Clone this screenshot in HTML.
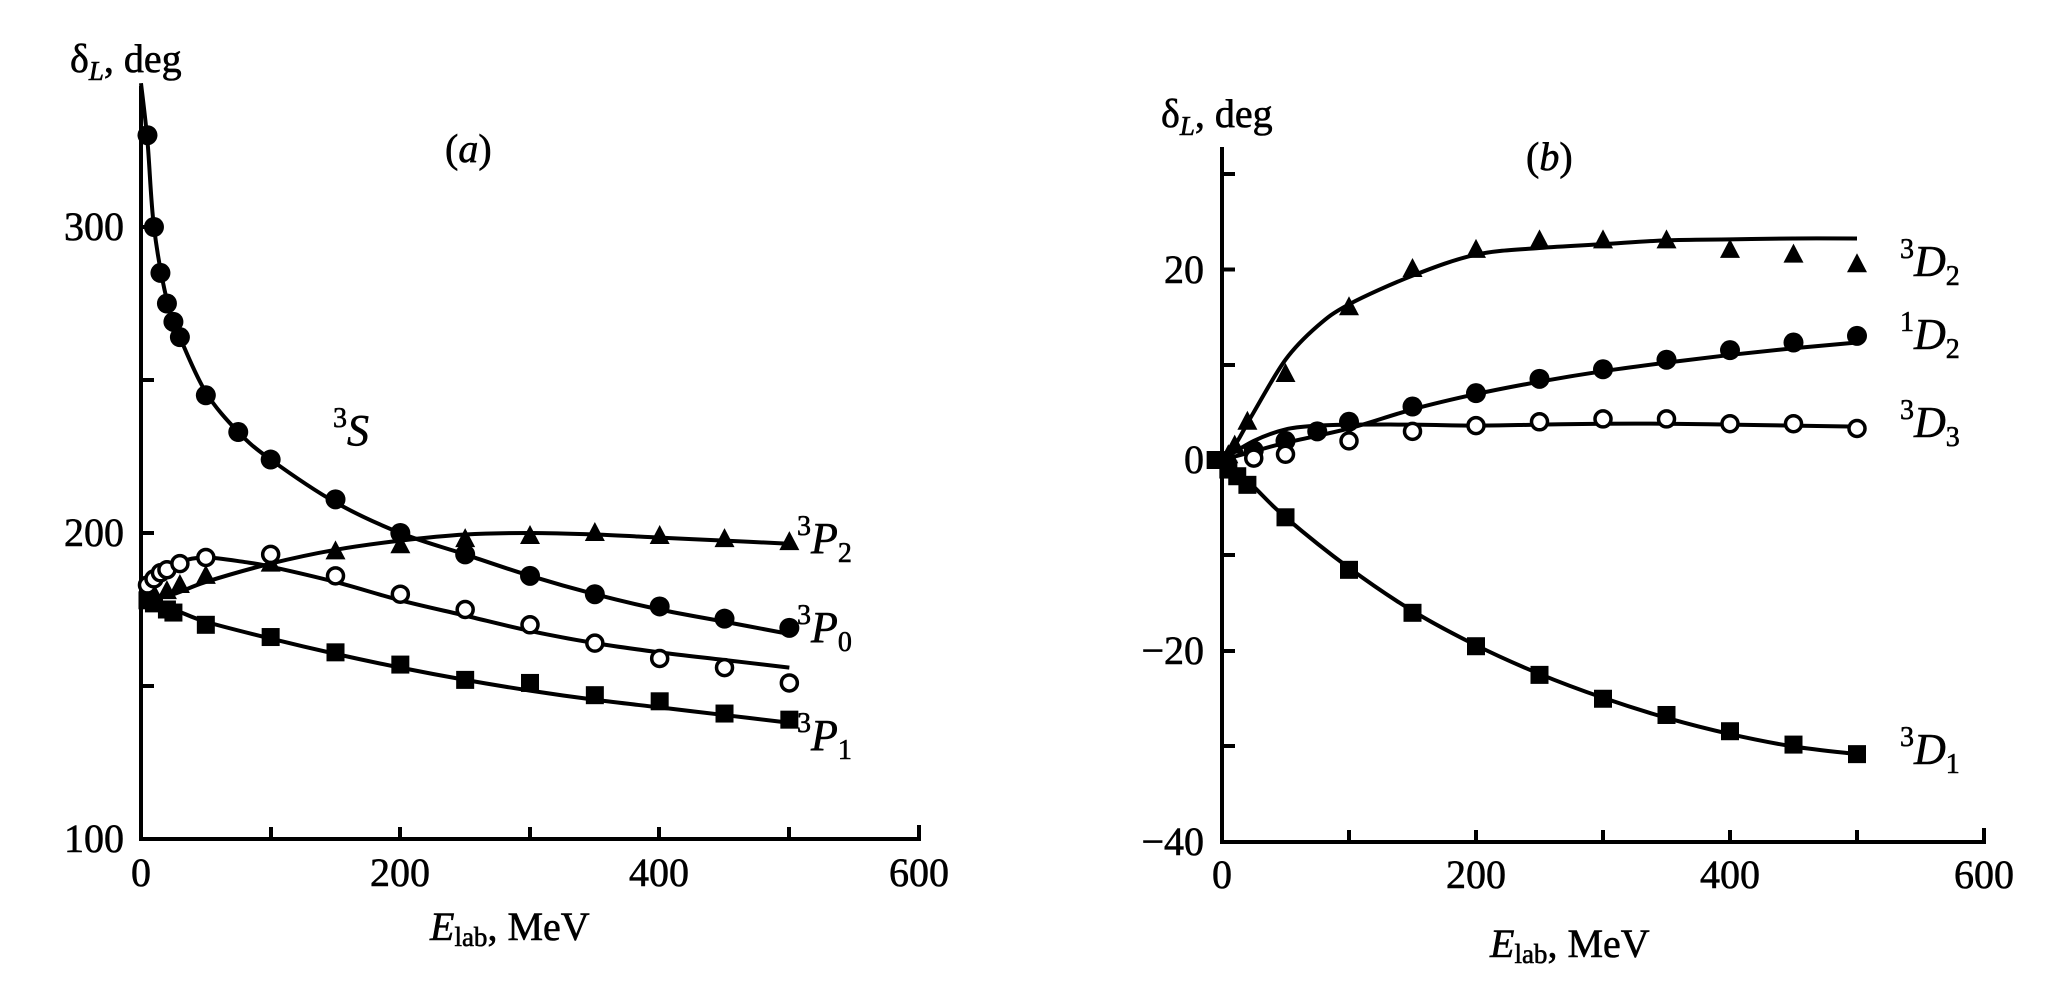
<!DOCTYPE html>
<html><head><meta charset="utf-8">
<style>
html,body{margin:0;padding:0;background:#fff;}
svg{display:block;}
text{font-family:"Liberation Serif",serif;fill:#000;stroke:#000;stroke-width:0.6;}
</style></head>
<body>
<svg id="s" width="2057" height="995" viewBox="0 0 2057 995" xmlns="http://www.w3.org/2000/svg">
<g stroke="#000" stroke-width="4" fill="none">
<path d="M141,86 V839 H919 V825"/>
<path d="M141,686 h13 M141,533 h13 M141,380 h13 M141,227 h13"/>
<path d="M271,839 v-12 M400,839 v-12 M530,839 v-12 M659,839 v-12 M789,839 v-12"/>
<path d="M1222,147 V842 H1984 V828"/>
<path d="M1222,174 h13 M1222,269.5 h13 M1222,365 h13 M1222,460 h13 M1222,555 h13 M1222,651 h13 M1222,746 h13"/>
<path d="M1349,842 v-12 M1476,842 v-12 M1603,842 v-12 M1730,842 v-12 M1857,842 v-12"/>
</g>
<g font-size="40">
<text x="70" y="72">δ<tspan font-style="italic" font-size="27" dy="8">L</tspan><tspan dy="-8">, deg</tspan></text>
<text x="445" y="162">(<tspan font-style="italic">a</tspan>)</text>
<text x="124" y="546" text-anchor="end">200</text>
<text x="124" y="240" text-anchor="end">300</text>
<text x="124" y="852" text-anchor="end">100</text>
<text x="141" y="886" text-anchor="middle">0</text>
<text x="400" y="886" text-anchor="middle">200</text>
<text x="659" y="886" text-anchor="middle">400</text>
<text x="919" y="886" text-anchor="middle">600</text>
<text x="430" y="940"><tspan font-style="italic">E</tspan><tspan font-size="27" dy="6">lab</tspan><tspan dy="-6">, MeV</tspan></text>
<g font-size="44">
<text x="333" y="445"><tspan font-size="28" dy="-18">3</tspan><tspan font-style="italic" dy="18">S</tspan></text>
<text x="797" y="553"><tspan font-size="28" dy="-18">3</tspan><tspan font-style="italic" dy="18">P</tspan><tspan font-size="28" dy="9">2</tspan></text>
<text x="797" y="642"><tspan font-size="28" dy="-18">3</tspan><tspan font-style="italic" dy="18">P</tspan><tspan font-size="28" dy="9">0</tspan></text>
<text x="797" y="750"><tspan font-size="28" dy="-18">3</tspan><tspan font-style="italic" dy="18">P</tspan><tspan font-size="28" dy="9">1</tspan></text>
<text x="1900" y="276"><tspan font-size="28" dy="-18">3</tspan><tspan font-style="italic" dy="18">D</tspan><tspan font-size="28" dy="9">2</tspan></text>
<text x="1900" y="349"><tspan font-size="28" dy="-18">1</tspan><tspan font-style="italic" dy="18">D</tspan><tspan font-size="28" dy="9">2</tspan></text>
<text x="1900" y="437"><tspan font-size="28" dy="-18">3</tspan><tspan font-style="italic" dy="18">D</tspan><tspan font-size="28" dy="9">3</tspan></text>
<text x="1900" y="764"><tspan font-size="28" dy="-18">3</tspan><tspan font-style="italic" dy="18">D</tspan><tspan font-size="28" dy="9">1</tspan></text>
</g>
<text x="1161" y="127">δ<tspan font-style="italic" font-size="27" dy="8">L</tspan><tspan dy="-8">, deg</tspan></text>
<text x="1526" y="170">(<tspan font-style="italic">b</tspan>)</text>
<text x="1204" y="283" text-anchor="end">20</text>
<text x="1204" y="473" text-anchor="end">0</text>
<text x="1204" y="664" text-anchor="end">−20</text>
<text x="1204" y="855" text-anchor="end">−40</text>
<text x="1222" y="888" text-anchor="middle">0</text>
<text x="1476" y="888" text-anchor="middle">200</text>
<text x="1730" y="888" text-anchor="middle">400</text>
<text x="1984" y="888" text-anchor="middle">600</text>
<text x="1490" y="957"><tspan font-style="italic">E</tspan><tspan font-size="27" dy="6">lab</tspan><tspan dy="-6">, MeV</tspan></text>
</g>
<g id="data"></g>
</svg>
<script>
var NS="http://www.w3.org/2000/svg",g=document.getElementById("data");
function ax(E){return 141+E*1.2967;} function ay(v){return 839-(v-100)*3.06;}
function bx(E){return 1222+E*1.27;} function by(v){return 460-v*9.55;}
function el(t,a){var e=document.createElementNS(NS,t);for(var k in a)e.setAttribute(k,a[k]);g.appendChild(e);return e;}
function curve(pts,fx,fy){var p=pts.map(function(q){return [fx(q[0]),fy(q[1])];});
 var d="M"+p[0][0]+","+p[0][1];
 for(var i=0;i<p.length-1;i++){var p0=p[i-1]||p[i],p1=p[i],p2=p[i+1],p3=p[i+2]||p2;
  var c1=[p1[0]+(p2[0]-p0[0])/6,p1[1]+(p2[1]-p0[1])/6],c2=[p2[0]-(p3[0]-p1[0])/6,p2[1]-(p3[1]-p1[1])/6];
  d+=" C"+c1+" "+c2+" "+p2;}
 el("path",{d:d,fill:"none",stroke:"#000","stroke-width":4});}
function mk(type,pts,fx,fy){pts.forEach(function(q){var x=fx(q[0]),y=fy(q[1]);
 if(type=="fc")el("circle",{cx:x,cy:y,r:10,fill:"#000"});
 if(type=="oc")el("circle",{cx:x,cy:y,r:8,fill:"#fff",stroke:"#000","stroke-width":3.5});
 if(type=="sq")el("rect",{x:x-9,y:y-9,width:18,height:18,fill:"#000"});
 if(type=="tr")el("path",{d:"M"+x+","+(y-11)+" L"+(x+10)+","+(y+8)+" L"+(x-10)+","+(y+8)+"Z",fill:"#000"});});}
curve([[0,347],[5,328],[10,300],[20,276],[30,264],[50,246],[75,233],[100,224],[150,210],[200,200],[250,193],[300,186],[350,180],[400,175],[450,171],[500,167]],ax,ay);
mk("fc",[[5,330],[10,300],[15,285],[20,275],[25,269],[30,264],[50,245],[75,233],[100,224],[150,211],[200,200],[250,193],[300,186],[350,180],[400,176],[450,172],[500,169]],ax,ay);
curve([[0,178],[25,180],[50,184],[100,190],[150,194.5],[200,197.5],[250,199.5],[300,200],[350,199.5],[400,198.5],[450,197.5],[500,196.5]],ax,ay);
mk("tr",[[10,180],[20,181],[30,183],[50,186],[100,190],[150,194],[200,196],[250,198],[300,199],[350,200],[400,199],[450,198],[500,197]],ax,ay);
curve([[0,180],[15,186],[30,190.5],[50,192],[80,190.5],[100,189],[150,184],[200,178],[250,173],[300,168],[350,164],[400,161],[450,158.5],[500,156]],ax,ay);
mk("oc",[[5,183],[10,185],[15,187],[20,188],[30,190],[50,192],[100,193],[150,186],[200,180],[250,175],[300,170],[350,164],[400,159],[450,156],[500,151]],ax,ay);
curve([[0,178],[25,175],[50,171],[100,165.5],[150,160.5],[200,156],[250,152],[300,148.5],[350,145.5],[400,143],[450,140.5],[500,138]],ax,ay);
mk("sq",[[5,178],[10,177],[20,175],[25,174],[50,170],[100,166],[150,161],[200,157],[250,152],[300,151],[350,147],[400,145],[450,141],[500,139]],ax,ay);
curve([[0,0],[10,1.5],[25,5],[50,10.5],[75,14],[100,16.3],[150,19.3],[200,21.5],[250,22.2],[300,22.6],[350,23],[400,23.1],[450,23.2],[500,23.2]],bx,by);
mk("tr",[[5,0.5],[10,1.5],[20,4],[50,9],[100,16],[150,20],[200,22],[250,23],[300,23],[350,23],[400,22],[450,21.5],[500,20.5]],bx,by);
curve([[0,0],[25,0.9],[50,1.8],[100,3.3],[150,5.3],[200,6.9],[250,8.2],[300,9.3],[350,10.2],[400,11],[450,11.7],[500,12.3]],bx,by);
mk("fc",[[25,1],[50,2],[75,3],[100,4],[150,5.6],[200,7],[250,8.5],[300,9.5],[350,10.5],[400,11.5],[450,12.3],[500,13]],bx,by);
curve([[0,0],[25,2],[50,3.2],[75,3.6],[100,3.7],[150,3.7],[200,3.6],[250,3.7],[300,3.8],[350,3.8],[400,3.7],[450,3.6],[500,3.5]],bx,by);
mk("oc",[[25,0.2],[50,0.6],[100,2],[150,3],[200,3.6],[250,4],[300,4.3],[350,4.3],[400,3.8],[450,3.8],[500,3.3]],bx,by);
curve([[0,0],[10,-1],[25,-2.8],[50,-6],[100,-11.3],[150,-15.8],[200,-19.4],[250,-22.4],[300,-24.9],[350,-27],[400,-28.7],[450,-30],[500,-30.8]],bx,by);
mk("sq",[[-5,0],[5,-1],[12,-1.7],[20,-2.6],[50,-6],[100,-11.5],[150,-16],[200,-19.5],[250,-22.5],[300,-25],[350,-26.7],[400,-28.4],[450,-29.8],[500,-30.8]],bx,by);
</script>
</body></html>
